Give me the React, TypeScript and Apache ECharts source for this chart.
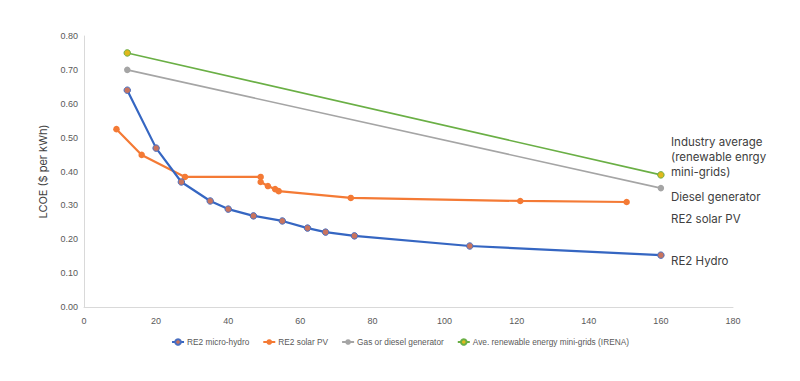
import React, { useEffect, useRef } from "react";
import * as echarts from "echarts";

const hydroX = [12, 20, 27, 35, 40, 47, 55, 62, 67, 75, 107, 160];
const hydroY = [0.64, 0.469, 0.369, 0.313, 0.289, 0.269, 0.254, 0.233, 0.221, 0.21, 0.18, 0.153];
const solarX = [9, 16, 28, 49, 49, 51, 53, 54, 74, 121, 150.5];
const solarY = [0.525, 0.449, 0.384, 0.384, 0.369, 0.357, 0.348, 0.342, 0.322, 0.313, 0.31];
const gasX = [12, 160];
const gasY = [0.7, 0.351];
const irenaX = [12, 160];
const irenaY = [0.75, 0.39];
const seriesNames = [
  "RE2 micro-hydro",
  "RE2 solar PV",
  "Gas or diesel generator",
  "Ave. renewable energy mini-grids (IRENA)",
];
const sideLabels = [
  { lines: ["Industry average", "(renewable enrgy", "mini-grids)"], y: 142 },
  { lines: ["Diesel generator"], y: 197 },
  { lines: ["RE2 solar PV"], y: 219 },
  { lines: ["RE2 Hydro"], y: 261 },
];

const zip = (xs: number[], ys: number[]) => xs.map((x, i) => [x, ys[i]]);

export default function App() {
  const ref = useRef<HTMLDivElement>(null);
  useEffect(() => {
    if (!ref.current) return;
    const chart = echarts.init(ref.current, null, { renderer: "svg" });
    const axisLabel = { color: "#595959", fontSize: 9, fontFamily: "Liberation Sans" };
    const graphics: any[] = [];
    sideLabels.forEach((s) => {
      s.lines.forEach((l, i) => {
        graphics.push({
          type: "text",
          left: 671,
          top: s.y - 6 + i * 15,
          style: { text: l, fill: "#404040", fontSize: 11.5, fontFamily: "Inter" },
        });
      });
    });
    chart.setOption({
      animation: false,
      backgroundColor: "#ffffff",
      grid: { left: 84, right: 67, top: 36, bottom: 74, containLabel: false },
      xAxis: {
        type: "value",
        min: 0,
        max: 180,
        interval: 20,
        splitLine: { show: false },
        axisLine: { lineStyle: { color: "#d9d9d9" } },
        axisTick: { show: false },
        axisLabel: { ...axisLabel, margin: 9 },
      },
      yAxis: {
        type: "value",
        min: 0,
        max: 0.8,
        interval: 0.1,
        name: "LCOE ($ per kWh)",
        nameLocation: "middle",
        nameGap: 36,
        nameTextStyle: { color: "#404040", fontSize: 11, fontFamily: "Inter" },
        splitLine: { show: false },
        axisLine: { show: true, lineStyle: { color: "#d9d9d9" } },
        axisTick: { show: false },
        axisLabel: { ...axisLabel, margin: 6, formatter: (v: number) => v.toFixed(2) },
      },
      legend: {
        bottom: 30,
        left: "center",
        itemWidth: 12,
        itemHeight: 7,
        itemGap: 13,
        textStyle: { color: "#595959", fontSize: 8.3, fontFamily: "Liberation Sans", padding: [0, 0, 0, -2] },
        data: seriesNames,
      },
      graphic: graphics,
      series: [
        {
          name: seriesNames[0],
          type: "line",
          data: zip(hydroX, hydroY),
          symbol: "circle",
          symbolSize: 6.5,
          lineStyle: { color: "#3566c2", width: 2.2 },
          itemStyle: { color: "#c9745e", borderColor: "#4a6fc0", borderWidth: 1 },
          z: 3,
        },
        {
          name: seriesNames[1],
          type: "line",
          data: zip(solarX, solarY),
          symbol: "circle",
          symbolSize: 6.5,
          lineStyle: { color: "#f47a35", width: 2.2 },
          itemStyle: { color: "#f47a35" },
          z: 2,
        },
        {
          name: seriesNames[2],
          type: "line",
          data: zip(gasX, gasY),
          symbol: "circle",
          symbolSize: 6.5,
          lineStyle: { color: "#a5a5a5", width: 1.6 },
          itemStyle: { color: "#a5a5a5" },
        },
        {
          name: seriesNames[3],
          type: "line",
          data: zip(irenaX, irenaY),
          symbol: "circle",
          symbolSize: 6.5,
          lineStyle: { color: "#6aaf45", width: 1.6 },
          itemStyle: { color: "#e0b81c", borderColor: "#6aaf45", borderWidth: 1 },
        },
      ],
    });
    return () => chart.dispose();
  }, []);
  return (
    <div
      ref={ref}
      style={{ position: "fixed", left: 0, top: 0, width: 800, height: 381, background: "#fff" }}
    />
  );
}
